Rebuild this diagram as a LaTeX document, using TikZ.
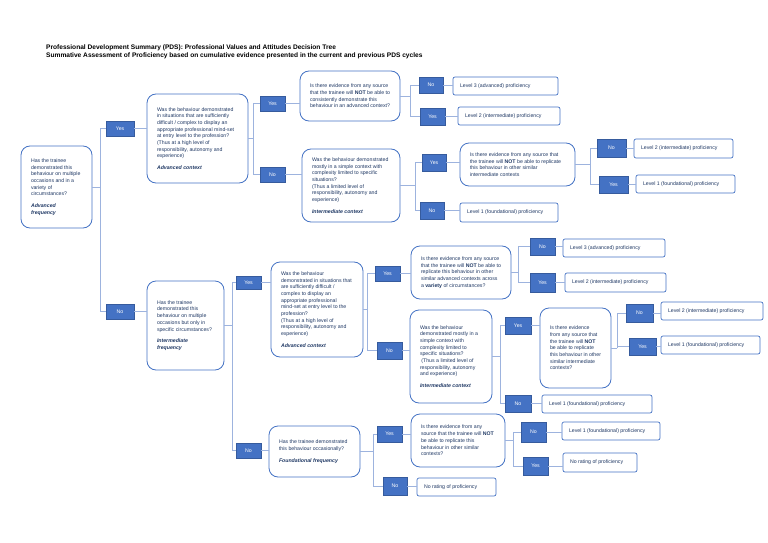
\documentclass[tikz,border=0pt]{standalone}
\usepackage{fontspec}
\setmainfont{Liberation Sans}
\definecolor{bl}{HTML}{4472C4}
\definecolor{ln}{HTML}{9DB3DE}
\definecolor{tx}{HTML}{1F3864}
\begin{document}
\begin{tikzpicture}[x=1pt,y=-1pt,
  qbox/.style={draw=bl,line width=0.8pt,rounded corners=9pt,fill=white,text=tx,align=left,inner sep=0pt,font=\fontsize{5.2}{6.7}\selectfont},
  abox/.style={draw=bl,line width=0.7pt,rounded corners=2pt,fill=white,text=tx,align=left,inner sep=0pt,font=\fontsize{5.2}{6.7}\selectfont},
  lbox/.style={fill=bl,draw=bl!80!black,line width=0.3pt,text=white,inner sep=0pt,font=\fontsize{5.2}{6}\selectfont},
  cn/.style={draw=ln,line width=0.7pt}]
\useasboundingbox (0,0) rectangle (768,543);
\newcommand\Qb[6]{\pgfmathsetmacro\ww{#4-#2}\pgfmathsetmacro\hh{#5-#3}\pgfmathsetmacro\tw{#4-#2-20}%
  \node[qbox,minimum width=\ww pt,minimum height=\hh pt] (#1) at ({(#2+#4)/2},{(#3+#5)/2}) {\begin{minipage}{\tw pt}\raggedright\hyphenpenalty=10000 #6\end{minipage}};}
\newcommand\Ab[6]{\pgfmathsetmacro\ww{#4-#2}\pgfmathsetmacro\hh{#5-#3}\pgfmathsetmacro\tw{#4-#2-14}%
  \node[abox,minimum width=\ww pt,minimum height=\hh pt] (#1) at ({(#2+#4)/2},{(#3+#5)/2}) {\begin{minipage}{\tw pt}\raggedright #6\end{minipage}};}
\newcommand\Lb[6]{\pgfmathsetmacro\ww{#4-#2}\pgfmathsetmacro\hh{#5-#3}%
  \node[lbox,minimum width=\ww pt,minimum height=\hh pt] (#1) at ({(#2+#4)/2},{(#3+#5)/2}) {#6};}
\newcommand\Br[4]{\draw[cn] (#1.east) -- ++(#2,0) coordinate (#1t); \draw[cn] (#1t) |- (#3.west); \draw[cn] (#1t) |- (#4.west);}
\newcommand\Ln[2]{\draw[cn] (#1.east) -- (#1.east -| #2.west);}

\node[anchor=west,font=\bfseries\fontsize{6.6}{8.2}\selectfont,align=left,inner sep=0pt] (title) at (46,51.5) {Professional Development Summary (PDS): Professional Values and Attitudes Decision Tree\\Summative Assessment of Proficiency based on cumulative evidence presented in the current and previous PDS cycles};

\Qb{root}{21}{146}{92}{228}{Has the trainee demonstrated this behaviour on multiple occasions and in a variety of circumstances?\\[5pt]\textbf{\textit{Advanced frequency}}}
\Lb{y1}{106}{121}{134}{136}{Yes}
\Lb{n1}{106}{304}{134}{319}{No}
\Qb{qa}{147}{94}{248}{183}{Was the behaviour demonstrated in situations that are sufficiently difficult / complex to display an appropriate professional mind-set at entry level to the profession?\\(Thus at a high level of responsibility, autonomy and experience)\\[5pt]\textbf{\textit{Advanced context}}}
\Qb{qb}{147}{281}{224}{370}{Has the trainee demonstrated this behaviour on multiple occasions but only in specific circumstances?\\[5pt]\textbf{\textit{Intermediate frequency}}}
\Br{root}{8}{y1}{n1}
\Ln{y1}{qa}\Ln{n1}{qb}

\Lb{y2}{260}{96}{285}{111}{Yes}
\Lb{n2}{260}{167}{285}{182}{No}
\Br{qa}{5}{y2}{n2}
\Qb{qa1}{300}{71}{400}{121}{Is there evidence from any source that the trainee will \textbf{NOT} be able to consistently demonstrate this behaviour in an advanced context?}
\Qb{qa2}{302}{149}{400}{222}{Was the behaviour demonstrated mostly in a simple context with complexity limited to specific situations?\\(Thus a limited level of responsibility, autonomy and experience)\\[5pt]\textbf{\textit{Intermediate context}}}
\Ln{y2}{qa1}\Ln{n2}{qa2}

\Lb{n3}{419}{77}{443}{93}{No}
\Lb{y3}{420}{108}{445}{125}{Yes}
\Br{qa1}{10}{n3}{y3}
\Ab{a1}{453}{77}{558}{95}{Level 3 (advanced) proficiency}
\Ab{a2}{458}{107}{560}{125}{Level 2 (intermediate) proficiency}
\Ln{n3}{a1}\Ln{y3}{a2}

\Lb{y4}{422}{154}{446}{171}{Yes}
\Lb{n4}{420}{202}{444}{219}{No}
\Br{qa2}{15}{y4}{n4}
\Qb{qa3}{460}{143}{575}{186}{Is there evidence from any source that the trainee will \textbf{NOT} be able to replicate this behaviour in other similar intermediate contexts}
\Ab{a3}{460}{203}{558}{222}{Level 1 (foundational) proficiency}
\Ln{y4}{qa3}\Ln{n4}{a3}

\Lb{n5}{597}{139}{626}{157}{No}
\Lb{y5}{599}{176}{628}{193}{Yes}
\Br{qa3}{15}{n5}{y5}
\Ab{a4}{634}{139}{733}{158}{Level 2 (intermediate) proficiency}
\Ab{a5}{636}{175}{735}{193}{Level 1 (foundational) proficiency}
\Ln{n5}{a4}\Ln{y5}{a5}

% lower half
\Lb{y6}{236}{276}{261}{289}{Yes}
\Lb{n6}{236}{443}{261}{458}{No}
\Br{qb}{8}{y6}{n6}
\Qb{qb1}{271}{262}{363}{357}{Was the behaviour demonstrated in situations that are sufficiently difficult / complex to display an appropriate professional mind-set at entry level to the profession?\\(Thus at a high level of responsibility, autonomy and experience)\\[5pt]\textbf{\textit{Advanced context}}}
\Qb{qb3}{269}{426}{360}{477}{Has the trainee demonstrated this behaviour occasionally?\\[5pt]\textbf{\textit{Foundational frequency}}}
\Ln{y6}{qb1}\Ln{n6}{qb3}

\Lb{y7}{375}{266}{400}{281}{Yes}
\Lb{n7}{377}{342}{402}{359}{No}
\Br{qb1}{4}{y7}{n7}
\Qb{qb1a}{411}{246}{511}{299}{Is there evidence from any source that the trainee will \textbf{NOT} be able to replicate this behaviour in other similar advanced contexts across a \textbf{variety} of circumstances?}
\Qb{qb1b}{410}{310}{492}{403}{Was the behaviour demonstrated mostly in a simple context with complexity limited to specific situations?\\\ (Thus a limited level of responsibility, autonomy and experience)\\[5pt]\textbf{\textit{Intermediate context}}}
\Ln{y7}{qb1a}\Ln{n7}{qb1b}

\Lb{n8}{530}{238}{555}{255}{No}
\Lb{y8}{530}{273}{555}{292}{Yes}
\Br{qb1a}{7}{n8}{y8}
\Ab{a6}{563}{239}{665}{257}{Level 3 (advanced) proficiency}
\Ab{a7}{565}{273}{666}{292}{Level 2 (intermediate) proficiency}
\Ln{n8}{a6}\Ln{y8}{a7}

\Lb{y9}{505}{317}{531}{334}{Yes}
\Lb{n9}{505}{395}{531}{412}{No}
\Br{qb1b}{8}{y9}{n9}
\Qb{qb1c}{540}{308}{611}{388}{Is there evidence from any source that the trainee will \textbf{NOT} be able to replicate this behaviour in other similar intermediate contexts?}
\Ab{a8}{542}{395}{652}{413}{Level 1 (foundational) proficiency}
\Ln{y9}{qb1c}\Ln{n9}{a8}

\Lb{n10}{626}{304}{653}{322}{No}
\Lb{y10}{629}{338}{656}{355}{Yes}
\Br{qb1c}{6}{n10}{y10}
\Ab{a9}{661}{302}{763}{320}{Level 2 (intermediate) proficiency}
\Ab{a10}{661}{336}{760}{354}{Level 1 (foundational) proficiency}
\Ln{n10}{a9}\Ln{y10}{a10}

\Lb{y11}{377}{426}{402}{442}{Yes}
\Lb{n11}{383}{477}{407}{495}{No}
\Br{qb3}{13}{y11}{n11}
\Qb{qb3a}{411}{414}{505}{467}{Is there evidence from any source that the trainee will \textbf{NOT} be able to replicate this behaviour in other similar contexts?}
\Ab{a11}{417}{478}{496}{496}{No rating of proficiency}
\Ln{y11}{qb3a}\Ln{n11}{a11}

\Lb{n12}{521}{422}{546}{442}{No}
\Lb{y12}{523}{457}{548}{475}{Yes}
\Br{qb3a}{8}{n12}{y12}
\Ab{a12}{562}{422}{660}{440}{Level 1 (foundational) proficiency}
\Ab{a13}{563}{453}{637}{472}{No rating of proficiency}
\Ln{n12}{a12}\Ln{y12}{a13}
\end{tikzpicture}
\end{document}
